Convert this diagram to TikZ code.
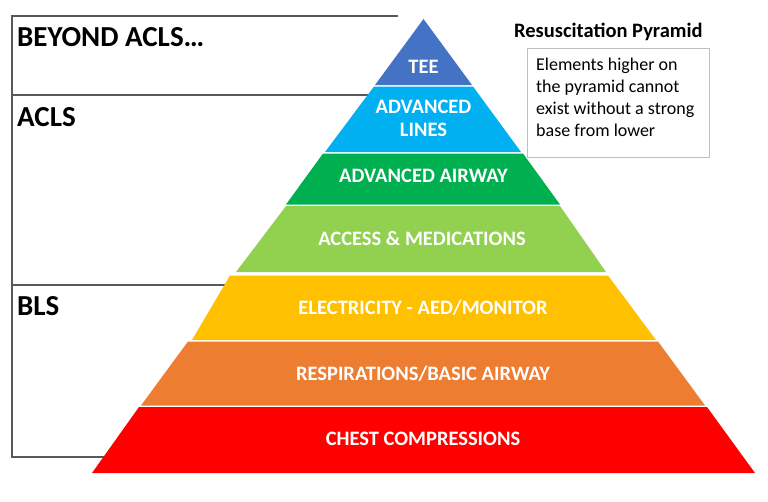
\documentclass[tikz,border=0pt]{standalone}
\usepackage{fontspec}
\setmainfont{Carlito}
\usetikzlibrary{positioning}

\definecolor{teeblue}{HTML}{4472C4}
\definecolor{linesblue}{HTML}{00B0F0}
\definecolor{airwaygreen}{HTML}{00B050}
\definecolor{accessgreen}{HTML}{92D050}
\definecolor{elecyellow}{HTML}{FFC000}
\definecolor{resporange}{HTML}{ED7D31}
\definecolor{chestred}{HTML}{FF0000}
\definecolor{framegray}{HTML}{595959}
\definecolor{notegray}{HTML}{BFBFBF}

\begin{document}
\begin{tikzpicture}[
      x=1pt, y=-1pt,
      tier/.style={text=white, inner sep=0pt, align=center, font=\fontsize{20.5}{22.4}\selectfont\bfseries},
      level/.style={anchor=base west, inner sep=0pt, font=\fontsize{29}{31}\selectfont\bfseries},
      frame/.style={draw=framegray, line width=1.2pt},
      note/.style={draw=notegray, line width=0.9pt, minimum width=181.4pt, minimum height=108.4pt, anchor=north west, inner sep=0pt},
      notetext/.style={anchor=north west, inner sep=0pt, align=left, font=\fontsize{18}{22.2}\selectfont}
  ]
      \useasboundingbox (0,0) rectangle (768,501);

      % Left: level frame
      \draw [frame] (398,16) -- (12,16) -- (12,457) -- (110,457);
      \draw [frame] (12,95) -- (380,95);
      \draw [frame] (12,285) -- (240,285);

      \node [level] (beyond) at (17,46.7) {BEYOND ACLS\ldots};
      \node [level] (acls) at (17,126) {ACLS};
      \node [level] (bls) at (17,315) {BLS};

      % Middle: pyramid bands, top to bottom
      \fill [teeblue] (423.5,19) -- (472,85) -- (375,85) -- cycle;
      \fill [linesblue] (374,86.5) -- (473,86.5) -- (521,152) -- (325,152) -- cycle;
      \fill [airwaygreen] (323,153.5) -- (523,153.5) -- (560,204.5) -- (286,204.5) -- cycle;
      \fill [accessgreen] (286,206) -- (560,206) -- (606,272) -- (236,272) -- cycle;
      \fill [elecyellow] (230,275.5) -- (608,275.5) -- (656,340) -- (192,340) -- cycle;
      \fill [resporange] (188,341.5) -- (658,341.5) -- (705,405.5) -- (141,405.5) -- cycle;
      \fill [chestred] (139,407) -- (707,407) -- (755,473) -- (92,473) -- cycle;

      \node [tier, anchor=base] (tee) at (423.5,73.3) {TEE};
      \node [tier] (advlines) at (423.5,118.2) {ADVANCED\\LINES};
      \node [tier, anchor=base] (advairway) at (423.5,182.7) {ADVANCED AIRWAY};
      \node [tier, anchor=base] (access) at (422,245) {ACCESS \& MEDICATIONS};
      \node [tier, anchor=base] (elec) at (423,314.3) {ELECTRICITY - AED/MONITOR};
      \node [tier, anchor=base] (resp) at (423,380.7) {RESPIRATIONS/BASIC AIRWAY};
      \node [tier, anchor=base] (chest) at (423,445) {CHEST COMPRESSIONS};

      % Right: title and note
      \node [anchor=base, inner sep=0pt, font=\fontsize{20.5}{22}\selectfont\bfseries] (title) at (608.4,37.7) {Resuscitation Pyramid};
      \node [note] (noteBox) at (527.3,48.3) {};
      \node [notetext] (noteText) at (536,57.5) {Elements higher on\\the pyramid cannot\\exist without a strong\\base from lower};
  \end{tikzpicture}
\end{document}
